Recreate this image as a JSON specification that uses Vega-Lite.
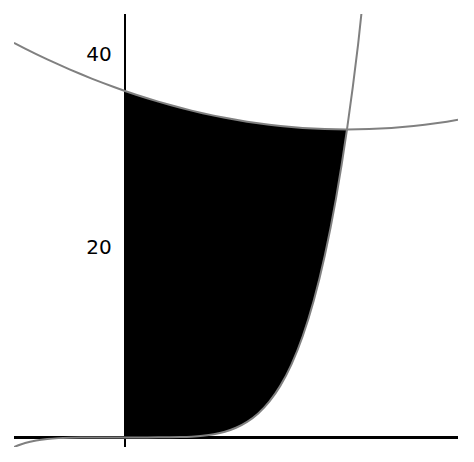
{
  "$schema": "https://vega.github.io/schema/vega-lite/v6.json",
  "width": 444,
  "height": 433,
  "autosize": "none",
  "padding": {"left": 14, "top": 14, "right": 16, "bottom": 15},
  "config": {"view": {"stroke": null}, "axis": {"disable": true}},
  "datasets": {
    "curves": [
      {"x": -1.0, "lo": -1, "hi": 41},
      {"x": -0.9, "lo": -0.59049, "hi": 40.41},
      {"x": -0.8, "lo": -0.32768, "hi": 39.84},
      {"x": -0.7, "lo": -0.16807, "hi": 39.29},
      {"x": -0.6, "lo": -0.07776, "hi": 38.76},
      {"x": -0.5, "lo": -0.03125, "hi": 38.25},
      {"x": -0.4, "lo": -0.01024, "hi": 37.76},
      {"x": -0.3, "lo": -0.00243, "hi": 37.29},
      {"x": -0.2, "lo": -0.00032, "hi": 36.84},
      {"x": -0.1, "lo": -0.00001, "hi": 36.41},
      {"x": 0.0, "lo": 0, "hi": 36},
      {"x": 0.1, "lo": 0.00001, "hi": 35.61},
      {"x": 0.2, "lo": 0.00032, "hi": 35.24},
      {"x": 0.3, "lo": 0.00243, "hi": 34.89},
      {"x": 0.4, "lo": 0.01024, "hi": 34.56},
      {"x": 0.5, "lo": 0.03125, "hi": 34.25},
      {"x": 0.6, "lo": 0.07776, "hi": 33.96},
      {"x": 0.7, "lo": 0.16807, "hi": 33.69},
      {"x": 0.8, "lo": 0.32768, "hi": 33.44},
      {"x": 0.9, "lo": 0.59049, "hi": 33.21},
      {"x": 1.0, "lo": 1, "hi": 33},
      {"x": 1.1, "lo": 1.61051, "hi": 32.81},
      {"x": 1.2, "lo": 2.48832, "hi": 32.64},
      {"x": 1.3, "lo": 3.71293, "hi": 32.49},
      {"x": 1.4, "lo": 5.37824, "hi": 32.36},
      {"x": 1.5, "lo": 7.59375, "hi": 32.25},
      {"x": 1.6, "lo": 10.48576, "hi": 32.16},
      {"x": 1.7, "lo": 14.19857, "hi": 32.09},
      {"x": 1.8, "lo": 18.89568, "hi": 32.04},
      {"x": 1.9, "lo": 24.76099, "hi": 32.01},
      {"x": 2.0, "lo": 32, "hi": 32},
      {"x": 2.1, "lo": 40.84101, "hi": 32.01},
      {"x": 2.2, "lo": 51.53632, "hi": 32.04},
      {"x": 2.3, "lo": null, "hi": 32.09},
      {"x": 2.4, "lo": null, "hi": 32.16},
      {"x": 2.5, "lo": null, "hi": 32.25},
      {"x": 2.6, "lo": null, "hi": 32.36},
      {"x": 2.7, "lo": null, "hi": 32.49},
      {"x": 2.8, "lo": null, "hi": 32.64},
      {"x": 2.9, "lo": null, "hi": 32.81},
      {"x": 3.0, "lo": null, "hi": 33}
    ],
    "labels": [
      {"label": "20", "x": -0.12, "y": 20},
      {"label": "40", "x": -0.12, "y": 40}
    ]
  },
  "layer": [
    {
      "data": {"name": "curves"},
      "transform": [{"filter": "datum.x >= 0 && datum.x <= 2"}],
      "mark": {"type": "area", "color": "black", "interpolate": "monotone"},
      "encoding": {
        "x": {"field": "x", "type": "quantitative", "scale": {"domain": [-1, 3], "nice": false, "zero": false}},
        "y": {"field": "lo", "type": "quantitative", "scale": {"domain": [-1, 44], "nice": false, "zero": false}},
        "y2": {"field": "hi"}
      }
    },
    {
      "data": {"name": "curves"},
      "mark": {"type": "rule", "color": "black", "strokeWidth": 1.5},
      "encoding": {"x": {"datum": 0, "type": "quantitative"}}
    },
    {
      "data": {"name": "curves"},
      "mark": {"type": "rule", "color": "black", "strokeWidth": 1.5},
      "encoding": {"y": {"datum": 0, "type": "quantitative"}}
    },
    {
      "data": {"name": "curves"},
      "mark": {"type": "line", "color": "#808080", "strokeWidth": 2, "interpolate": "monotone", "clip": true},
      "encoding": {
        "x": {"field": "x", "type": "quantitative"},
        "y": {"field": "lo", "type": "quantitative"}
      }
    },
    {
      "data": {"name": "curves"},
      "mark": {"type": "line", "color": "#808080", "strokeWidth": 2, "interpolate": "monotone", "clip": true},
      "encoding": {
        "x": {"field": "x", "type": "quantitative"},
        "y": {"field": "hi", "type": "quantitative"}
      }
    },
    {
      "data": {"name": "labels"},
      "mark": {"type": "text", "align": "right", "baseline": "middle", "dy": 3, "font": "DejaVu Sans", "fontSize": 20, "fill": "black"},
      "encoding": {
        "x": {"field": "x", "type": "quantitative"},
        "y": {"field": "y", "type": "quantitative"},
        "text": {"field": "label", "type": "nominal"}
      }
    }
  ]
}
